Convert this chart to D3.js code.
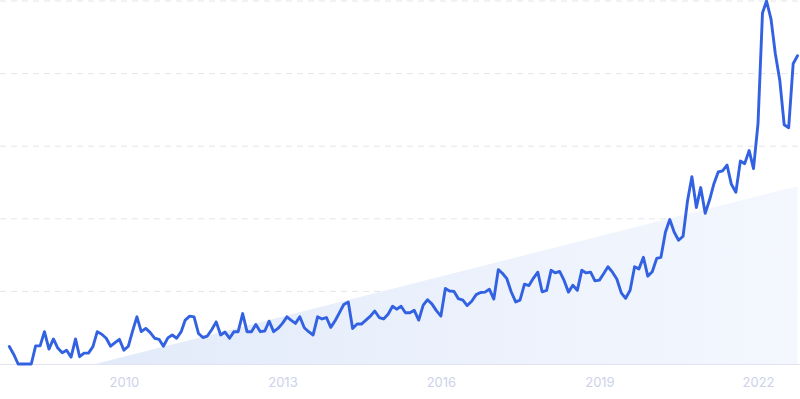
<!DOCTYPE html>
<html lang="en">
<head>
    <meta charset="UTF-8">
    <title>Search trend</title>
    <script src="https://d3js.org/d3.v7.min.js"></script>
    <style>
        body {
            margin: 0;
            background-color: #fff;
            font-family: Inter, "Open Sans", sans-serif;
        }
        .tick-label {
            fill: #cdd2ea;
            font-size: 13px;
        }
    </style>
</head>
<body>
    <div id="chart"></div>
    <script>
        // Monthly interest, Nov 2007 onwards (0-100 scale)
        const startMonth = new Date(2007, 10, 1);
        const values = [
            4.8, 2.7, 0, 0, 0, 0, 5, 5, 8.9, 4.1, 6.9, 4.4, 3.1, 3.8, 1.9, 6.9, 2, 3, 3, 4.8,
            8.9, 8.2, 7.1, 4.9, 5.9, 6.8, 3.8, 4.9, 8.9, 13, 8.9, 9.8, 8.7, 7.1, 6.8, 4.9, 7.2, 8, 7.1, 8.9,
            12.1, 13.2, 13, 8.4, 7.3, 7.7, 9.5, 11.6, 8, 8.8, 7.1, 8.9, 8.9, 13.9, 8.9, 8.9, 10.9, 8.9, 9.1, 11.8,
            8.9, 9.8, 11.2, 13, 12.1, 11.2, 13, 10, 8.9, 8, 13, 12.4, 12.8, 10.1, 12, 14.3, 16.4, 17.1, 9.8, 11,
            11, 12.1, 13.2, 14.6, 12.8, 12.4, 13.7, 15.9, 15.1, 15.9, 14.1, 14.1, 14.8, 12.1, 16.2, 17.7, 16.5, 14.7, 13.2, 20.8,
            20.1, 20, 18, 17.6, 16.1, 17.3, 19.1, 19.7, 19.8, 20.6, 17.9, 26, 25, 23.5, 19.9, 17.1, 17.6, 22, 21.6, 23.6,
            25.3, 19.9, 20.3, 25.8, 25.1, 25.5, 23.1, 19.8, 21.7, 20.3, 25.8, 25.1, 25.3, 22.9, 23.1, 25, 26.8, 25.3, 23.4, 19.6,
            18.1, 20.3, 26.8, 26.2, 29.4, 24.2, 25.4, 29.1, 29.4, 36.3, 39.8, 36.3, 34.1, 35.2, 45, 51.6, 43.1, 48.6, 41.5, 45.3,
            49.5, 52.9, 53.2, 54.8, 49.5, 47.3, 55.9, 55.2, 58.8, 53.8, 66.2, 96.7, 100, 95, 85.4, 78, 65.9, 65.1, 82.7, 84.9
        ];
        const dates = values.map((v, i) => d3.timeMonth.offset(startMonth, i));

        // Linear trend, value at first and last month
        const trendValues = [-6, 49];
        const trendDates = [dates[0], dates[dates.length - 1]];

        const yTicks = [0, 20, 40, 60, 80, 100];
        const xTickYears = [2010, 2013, 2016, 2019, 2022];

        const width = 800,
            height = 399,
            plotTop = 1,
            plotBottom = 364;

        const x = d3.scaleTime()
            .domain([dates[0], dates[dates.length - 1]])
            .range([9.3, 797.5]);

        const y = d3.scaleLinear()
            .domain([0, 100])
            .range([plotBottom, plotTop]);

        const svg = d3.select('#chart').append('svg')
            .attr('width', width)
            .attr('height', height);

        const defs = svg.append('defs');

        const grad = defs.append('linearGradient')
            .attr('id', 'trendFill')
            .attr('x1', '0%').attr('y1', '0%')
            .attr('x2', '100%').attr('y2', '0%');
        grad.append('stop').attr('offset', '0%').attr('stop-color', '#e0e9f9');
        grad.append('stop').attr('offset', '100%').attr('stop-color', '#f4f7fe');

        defs.append('clipPath').attr('id', 'plotClip')
            .append('rect')
            .attr('x', 0).attr('y', 0)
            .attr('width', width).attr('height', plotBottom);

        // gridlines
        svg.append('g')
            .selectAll('line')
            .data(yTicks.filter(t => t > 0))
            .enter()
            .append('line')
            .attr('x1', 0)
            .attr('x2', width)
            .attr('y1', d => Math.max(y(d), 0.5))
            .attr('y2', d => Math.max(y(d), 0.5))
            .attr('stroke', '#e4e5eb')
            .attr('stroke-width', 1)
            .attr('stroke-dasharray', '6,5');

        // trend area
        const trendArea = d3.area()
            .x((d, i) => x(trendDates[i]))
            .y0(y(0))
            .y1(d => y(d));

        svg.append('path')
            .datum(trendValues)
            .attr('clip-path', 'url(#plotClip)')
            .attr('d', trendArea)
            .attr('fill', 'url(#trendFill)');

        // baseline
        svg.append('line')
            .attr('x1', 0)
            .attr('x2', width)
            .attr('y1', y(0) + 0.5)
            .attr('y2', y(0) + 0.5)
            .attr('stroke', '#e1e5f2')
            .attr('stroke-width', 1);

        // main line
        const line = d3.line()
            .x((d, i) => x(dates[i]))
            .y(d => y(d));

        svg.append('path')
            .datum(values)
            .attr('d', line)
            .attr('fill', 'none')
            .attr('stroke', '#3262e2')
            .attr('stroke-width', 2.9)
            .attr('stroke-linejoin', 'round')
            .attr('stroke-linecap', 'round');

        // x axis labels
        const xAxis = d3.axisBottom(x)
            .tickValues(xTickYears.map(yr => new Date(yr, 0, 1)))
            .tickFormat(d3.timeFormat('%Y'))
            .tickSize(0)
            .tickPadding(0);

        const axisG = svg.append('g')
            .attr('transform', `translate(0, ${plotBottom})`)
            .call(xAxis);
        axisG.select('.domain').remove();
        axisG.selectAll('text')
            .attr('class', 'tick-label')
            .attr('dy', null)
            .attr('y', 23)
            .style('font-family', 'Inter, sans-serif')
            .style('font-size', '13px')
            .attr('fill', '#cdd2ea');
    </script>
</body>
</html>
